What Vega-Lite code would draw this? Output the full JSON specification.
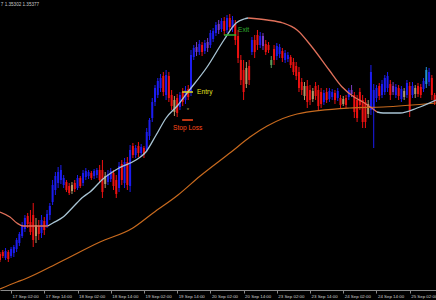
{
"$schema":"https://vega.github.io/schema/vega-lite/v6.json",
"width":436,"height":290,
"autosize":{"type":"none"},
"padding":{"left":0,"right":0,"top":0,"bottom":10},
"background":"#000000",
"config":{"view":{"stroke":null},"font":"Liberation Sans",
 "axisX":{"labelOverlap":false,"labelFlush":false,"labelBound":false,"labelAlign":"left","labelBaseline":"top","labelPadding":1,"labelOffset":1,
   "labelFontSize":4.4,"labelColor":"#d0d0d0","labelFont":"Liberation Sans","tickCount":30,
   "domainColor":"#8a8a8a","domainWidth":1,"tickColor":"#8a8a8a","tickSize":3,"tickWidth":1,"grid":false}},
"datasets":{
"bars":[
{"i":0,"h":1.3348,"l":1.3338,"o":1.3346,"c":1.3340,"k":"d"},
{"i":1,"h":1.3350,"l":1.3342,"o":1.3348,"c":1.3344,"k":"d"},
{"i":2,"h":1.3352,"l":1.3340,"o":1.3342,"c":1.3349,"k":"u"},
{"i":3,"h":1.3350,"l":1.3338,"o":1.3348,"c":1.3341,"k":"d"},
{"i":4,"h":1.3353,"l":1.3342,"o":1.3344,"c":1.3351,"k":"u"},
{"i":5,"h":1.3355,"l":1.3343,"o":1.3347,"c":1.3353,"k":"u"},
{"i":6,"h":1.3362,"l":1.3348,"o":1.3351,"c":1.3360,"k":"u"},
{"i":7,"h":1.3368,"l":1.3354,"o":1.3357,"c":1.3366,"k":"u"},
{"i":8,"h":1.3378,"l":1.3362,"o":1.3364,"c":1.3375,"k":"u"},
{"i":9,"h":1.3385,"l":1.3368,"o":1.3371,"c":1.3382,"k":"u"},
{"i":10,"h":1.3387,"l":1.3372,"o":1.3384,"c":1.3376,"k":"d"},
{"i":11,"h":1.3390,"l":1.3365,"o":1.3378,"c":1.3368,"k":"d"},
{"i":12,"h":1.3397,"l":1.3353,"o":1.3385,"c":1.3360,"k":"d"},
{"i":13,"h":1.3382,"l":1.3357,"o":1.3375,"c":1.3364,"k":"t"},
{"i":14,"h":1.3380,"l":1.3360,"o":1.3374,"c":1.3366,"k":"d"},
{"i":15,"h":1.3385,"l":1.3362,"o":1.3367,"c":1.3380,"k":"u"},
{"i":16,"h":1.3383,"l":1.3365,"o":1.3379,"c":1.3370,"k":"d"},
{"i":17,"h":1.3390,"l":1.3372,"o":1.3374,"c":1.3386,"k":"u"},
{"i":18,"h":1.3397,"l":1.3380,"o":1.3385,"c":1.3394,"k":"u"},
{"i":19,"h":1.3420,"l":1.3395,"o":1.3398,"c":1.3415,"k":"u"},
{"i":20,"h":1.3428,"l":1.3405,"o":1.3410,"c":1.3424,"k":"u"},
{"i":21,"h":1.3433,"l":1.3412,"o":1.3417,"c":1.3428,"k":"u"},
{"i":22,"h":1.3435,"l":1.3416,"o":1.3420,"c":1.3430,"k":"u"},
{"i":23,"h":1.3425,"l":1.3412,"o":1.3415,"c":1.3422,"k":"u"},
{"i":24,"h":1.3420,"l":1.3408,"o":1.3418,"c":1.3410,"k":"d"},
{"i":25,"h":1.3417,"l":1.3405,"o":1.3414,"c":1.3407,"k":"d"},
{"i":26,"h":1.3418,"l":1.3406,"o":1.3415,"c":1.3409,"k":"t"},
{"i":27,"h":1.3420,"l":1.3408,"o":1.3417,"c":1.3411,"k":"d"},
{"i":28,"h":1.3425,"l":1.3410,"o":1.3412,"c":1.3422,"k":"u"},
{"i":29,"h":1.3424,"l":1.3412,"o":1.3422,"c":1.3414,"k":"d"},
{"i":30,"h":1.3430,"l":1.3414,"o":1.3417,"c":1.3427,"k":"u"},
{"i":31,"h":1.3432,"l":1.3420,"o":1.3423,"c":1.3429,"k":"u"},
{"i":32,"h":1.3430,"l":1.3421,"o":1.3424,"c":1.3428,"k":"u"},
{"i":33,"h":1.3429,"l":1.3420,"o":1.3427,"c":1.3422,"k":"d"},
{"i":34,"h":1.3431,"l":1.3421,"o":1.3424,"c":1.3429,"k":"u"},
{"i":35,"h":1.3432,"l":1.3422,"o":1.3425,"c":1.3430,"k":"u"},
{"i":36,"h":1.3435,"l":1.3418,"o":1.3430,"c":1.3420,"k":"d"},
{"i":37,"h":1.3440,"l":1.3402,"o":1.3430,"c":1.3408,"k":"d"},
{"i":38,"h":1.3428,"l":1.3412,"o":1.3424,"c":1.3416,"k":"t"},
{"i":39,"h":1.3430,"l":1.3415,"o":1.3418,"c":1.3426,"k":"u"},
{"i":40,"h":1.3432,"l":1.3418,"o":1.3421,"c":1.3429,"k":"u"},
{"i":41,"h":1.3430,"l":1.3410,"o":1.3427,"c":1.3414,"k":"d"},
{"i":42,"h":1.3425,"l":1.3402,"o":1.3420,"c":1.3406,"k":"d"},
{"i":43,"h":1.3438,"l":1.3408,"o":1.3412,"c":1.3434,"k":"u"},
{"i":44,"h":1.3440,"l":1.3415,"o":1.3436,"c":1.3420,"k":"d"},
{"i":45,"h":1.3442,"l":1.3412,"o":1.3417,"c":1.3438,"k":"u"},
{"i":46,"h":1.3443,"l":1.3410,"o":1.3438,"c":1.3415,"k":"d"},
{"i":47,"h":1.3455,"l":1.3408,"o":1.3414,"c":1.3450,"k":"u"},
{"i":48,"h":1.3457,"l":1.3442,"o":1.3454,"c":1.3445,"k":"d"},
{"i":49,"h":1.3455,"l":1.3442,"o":1.3445,"c":1.3452,"k":"u"},
{"i":50,"h":1.3458,"l":1.3443,"o":1.3454,"c":1.3447,"k":"d"},
{"i":51,"h":1.3456,"l":1.3444,"o":1.3447,"c":1.3453,"k":"u"},
{"i":52,"h":1.3454,"l":1.3442,"o":1.3452,"c":1.3445,"k":"d"},
{"i":53,"h":1.3472,"l":1.3448,"o":1.3450,"c":1.3468,"k":"u"},
{"i":54,"h":1.3482,"l":1.3460,"o":1.3464,"c":1.3480,"k":"u"},
{"i":55,"h":1.3502,"l":1.3478,"o":1.3482,"c":1.3498,"k":"u"},
{"i":56,"h":1.3515,"l":1.3494,"o":1.3498,"c":1.3512,"k":"u"},
{"i":57,"h":1.3522,"l":1.3502,"o":1.3505,"c":1.3519,"k":"u"},
{"i":58,"h":1.3526,"l":1.3508,"o":1.3512,"c":1.3522,"k":"u"},
{"i":59,"h":1.3528,"l":1.3504,"o":1.3524,"c":1.3508,"k":"d"},
{"i":60,"h":1.3530,"l":1.3500,"o":1.3505,"c":1.3525,"k":"u"},
{"i":61,"h":1.3528,"l":1.3498,"o":1.3524,"c":1.3502,"k":"d"},
{"i":62,"h":1.3510,"l":1.3490,"o":1.3505,"c":1.3494,"k":"d"},
{"i":63,"h":1.3504,"l":1.3484,"o":1.3500,"c":1.3488,"k":"t"},
{"i":64,"h":1.3506,"l":1.3483,"o":1.3502,"c":1.3487,"k":"d"},
{"i":65,"h":1.3508,"l":1.3490,"o":1.3493,"c":1.3505,"k":"u"},
{"i":66,"h":1.3512,"l":1.3494,"o":1.3508,"c":1.3498,"k":"d"},
{"i":67,"h":1.3514,"l":1.3496,"o":1.3500,"c":1.3510,"k":"u"},
{"i":68,"h":1.3515,"l":1.3500,"o":1.3511,"c":1.3503,"k":"d"},
{"i":69,"h":1.3550,"l":1.3504,"o":1.3508,"c":1.3545,"k":"u"},
{"i":70,"h":1.3555,"l":1.3540,"o":1.3543,"c":1.3552,"k":"u"},
{"i":71,"h":1.3558,"l":1.3544,"o":1.3553,"c":1.3548,"k":"p"},
{"i":72,"h":1.3560,"l":1.3545,"o":1.3548,"c":1.3556,"k":"u"},
{"i":73,"h":1.3558,"l":1.3544,"o":1.3555,"c":1.3548,"k":"d"},
{"i":74,"h":1.3560,"l":1.3546,"o":1.3549,"c":1.3557,"k":"u"},
{"i":75,"h":1.3562,"l":1.3548,"o":1.3558,"c":1.3552,"k":"p"},
{"i":76,"h":1.3570,"l":1.3552,"o":1.3555,"c":1.3567,"k":"u"},
{"i":77,"h":1.3572,"l":1.3558,"o":1.3561,"c":1.3569,"k":"u"},
{"i":78,"h":1.3578,"l":1.3564,"o":1.3567,"c":1.3575,"k":"u"},
{"i":79,"h":1.3580,"l":1.3566,"o":1.3576,"c":1.3570,"k":"p"},
{"i":80,"h":1.3582,"l":1.3568,"o":1.3571,"c":1.3579,"k":"u"},
{"i":81,"h":1.3583,"l":1.3565,"o":1.3579,"c":1.3569,"k":"d"},
{"i":82,"h":1.3585,"l":1.3567,"o":1.3570,"c":1.3582,"k":"u"},
{"i":83,"h":1.3586,"l":1.3570,"o":1.3582,"c":1.3573,"k":"d"},
{"i":84,"h":1.3584,"l":1.3568,"o":1.3572,"c":1.3580,"k":"u"},
{"i":85,"h":1.3580,"l":1.3555,"o":1.3576,"c":1.3560,"k":"d"},
{"i":86,"h":1.3570,"l":1.3537,"o":1.3564,"c":1.3542,"k":"d"},
{"i":87,"h":1.3545,"l":1.3515,"o":1.3540,"c":1.3520,"k":"d"},
{"i":88,"h":1.3540,"l":1.3500,"o":1.3530,"c":1.3508,"k":"d"},
{"i":89,"h":1.3538,"l":1.3512,"o":1.3516,"c":1.3532,"k":"t"},
{"i":90,"h":1.3540,"l":1.3515,"o":1.3534,"c":1.3520,"k":"d"},
{"i":91,"h":1.3563,"l":1.3545,"o":1.3548,"c":1.3560,"k":"u"},
{"i":92,"h":1.3565,"l":1.3542,"o":1.3560,"c":1.3548,"k":"d"},
{"i":93,"h":1.3570,"l":1.3550,"o":1.3565,"c":1.3555,"k":"d"},
{"i":94,"h":1.3568,"l":1.3552,"o":1.3555,"c":1.3564,"k":"u"},
{"i":95,"h":1.3567,"l":1.3550,"o":1.3564,"c":1.3554,"k":"p"},
{"i":96,"h":1.3560,"l":1.3545,"o":1.3556,"c":1.3548,"k":"d"},
{"i":97,"h":1.3558,"l":1.3547,"o":1.3555,"c":1.3550,"k":"d"},
{"i":98,"h":1.3544,"l":1.3532,"o":1.3540,"c":1.3535,"k":"g"},
{"i":99,"h":1.3555,"l":1.3535,"o":1.3551,"c":1.3540,"k":"d"},
{"i":100,"h":1.3557,"l":1.3540,"o":1.3544,"c":1.3554,"k":"u"},
{"i":101,"h":1.3556,"l":1.3542,"o":1.3546,"c":1.3553,"k":"u"},
{"i":102,"h":1.3552,"l":1.3538,"o":1.3549,"c":1.3542,"k":"d"},
{"i":103,"h":1.3550,"l":1.3537,"o":1.3540,"c":1.3547,"k":"u"},
{"i":104,"h":1.3548,"l":1.3538,"o":1.3541,"c":1.3545,"k":"u"},
{"i":105,"h":1.3545,"l":1.3532,"o":1.3543,"c":1.3535,"k":"d"},
{"i":106,"h":1.3542,"l":1.3525,"o":1.3538,"c":1.3528,"k":"d"},
{"i":107,"h":1.3538,"l":1.3520,"o":1.3534,"c":1.3524,"k":"d"},
{"i":108,"h":1.3533,"l":1.3508,"o":1.3528,"c":1.3512,"k":"d"},
{"i":109,"h":1.3522,"l":1.3505,"o":1.3518,"c":1.3510,"k":"d"},
{"i":110,"h":1.3518,"l":1.3500,"o":1.3504,"c":1.3514,"k":"t"},
{"i":111,"h":1.3520,"l":1.3492,"o":1.3514,"c":1.3498,"k":"d"},
{"i":112,"h":1.3515,"l":1.3495,"o":1.3510,"c":1.3500,"k":"d"},
{"i":113,"h":1.3512,"l":1.3498,"o":1.3501,"c":1.3509,"k":"t"},
{"i":114,"h":1.3518,"l":1.3500,"o":1.3514,"c":1.3504,"k":"d"},
{"i":115,"h":1.3515,"l":1.3490,"o":1.3510,"c":1.3494,"k":"d"},
{"i":116,"h":1.3512,"l":1.3492,"o":1.3508,"c":1.3496,"k":"d"},
{"i":117,"h":1.3510,"l":1.3495,"o":1.3498,"c":1.3507,"k":"u"},
{"i":118,"h":1.3512,"l":1.3497,"o":1.3508,"c":1.3500,"k":"d"},
{"i":119,"h":1.3512,"l":1.3498,"o":1.3501,"c":1.3509,"k":"u"},
{"i":120,"h":1.3511,"l":1.3500,"o":1.3503,"c":1.3508,"k":"u"},
{"i":121,"h":1.3510,"l":1.3496,"o":1.3507,"c":1.3500,"k":"d"},
{"i":122,"h":1.3512,"l":1.3499,"o":1.3502,"c":1.3509,"k":"u"},
{"i":123,"h":1.3505,"l":1.3492,"o":1.3502,"c":1.3495,"k":"d"},
{"i":124,"h":1.3504,"l":1.3494,"o":1.3496,"c":1.3501,"k":"t"},
{"i":125,"h":1.3505,"l":1.3492,"o":1.3502,"c":1.3495,"k":"d"},
{"i":126,"h":1.3512,"l":1.3500,"o":1.3503,"c":1.3510,"k":"u"},
{"i":127,"h":1.3515,"l":1.3503,"o":1.3510,"c":1.3506,"k":"p"},
{"i":128,"h":1.3508,"l":1.3482,"o":1.3505,"c":1.3488,"k":"d"},
{"i":129,"h":1.3505,"l":1.3478,"o":1.3500,"c":1.3482,"k":"d"},
{"i":130,"h":1.3512,"l":1.3490,"o":1.3508,"c":1.3495,"k":"d"},
{"i":131,"h":1.3505,"l":1.3472,"o":1.3500,"c":1.3478,"k":"d"},
{"i":132,"h":1.3502,"l":1.3472,"o":1.3498,"c":1.3478,"k":"d"},
{"i":133,"h":1.3500,"l":1.3482,"o":1.3486,"c":1.3496,"k":"t"},
{"i":134,"h":1.3535,"l":1.3485,"o":1.3490,"c":1.3528,"k":"u"},
{"i":135,"h":1.3516,"l":1.3452,"o":1.3490,"c":1.3510,"k":"u"},
{"i":136,"h":1.3515,"l":1.3498,"o":1.3502,"c":1.3512,"k":"u"},
{"i":137,"h":1.3517,"l":1.3500,"o":1.3514,"c":1.3504,"k":"d"},
{"i":138,"h":1.3520,"l":1.3502,"o":1.3505,"c":1.3516,"k":"u"},
{"i":139,"h":1.3525,"l":1.3505,"o":1.3508,"c":1.3522,"k":"u"},
{"i":140,"h":1.3528,"l":1.3508,"o":1.3512,"c":1.3524,"k":"u"},
{"i":141,"h":1.3520,"l":1.3500,"o":1.3516,"c":1.3505,"k":"d"},
{"i":142,"h":1.3518,"l":1.3505,"o":1.3514,"c":1.3508,"k":"p"},
{"i":143,"h":1.3516,"l":1.3502,"o":1.3505,"c":1.3513,"k":"u"},
{"i":144,"h":1.3515,"l":1.3500,"o":1.3512,"c":1.3504,"k":"d"},
{"i":145,"h":1.3514,"l":1.3498,"o":1.3501,"c":1.3511,"k":"u"},
{"i":146,"h":1.3512,"l":1.3500,"o":1.3503,"c":1.3509,"k":"t"},
{"i":147,"h":1.3520,"l":1.3502,"o":1.3505,"c":1.3517,"k":"u"},
{"i":148,"h":1.3518,"l":1.3483,"o":1.3514,"c":1.3490,"k":"d"},
{"i":149,"h":1.3518,"l":1.3502,"o":1.3505,"c":1.3514,"k":"u"},
{"i":150,"h":1.3515,"l":1.3502,"o":1.3506,"c":1.3512,"k":"t"},
{"i":151,"h":1.3517,"l":1.3503,"o":1.3514,"c":1.3506,"k":"d"},
{"i":152,"h":1.3516,"l":1.3502,"o":1.3513,"c":1.3505,"k":"d"},
{"i":153,"h":1.3522,"l":1.3508,"o":1.3511,"c":1.3519,"k":"u"},
{"i":154,"h":1.3533,"l":1.3512,"o":1.3516,"c":1.3530,"k":"c"},
{"i":155,"h":1.3532,"l":1.3514,"o":1.3518,"c":1.3528,"k":"u"},
{"i":156,"h":1.3525,"l":1.3500,"o":1.3522,"c":1.3505,"k":"d"},
{"i":157,"h":1.3507,"l":1.3495,"o":1.3505,"c":1.3498,"k":"d"}
],
"ma":[
{"i":0,"p":1.3388,"s":"A","k":"maD"},
{"i":3.6,"p":1.3383,"s":"A","k":"maD"},
{"i":6.1,"p":1.3377,"s":"A","k":"maD"},
{"i":8.3,"p":1.3374,"s":"A","k":"maD"},
{"i":12.6,"p":1.3374,"s":"A","k":"maD"},
{"i":17.3,"p":1.3374,"s":"A","k":"maD"},
{"i":17.3,"p":1.3374,"s":"B","k":"maU"},
{"i":19.1,"p":1.3377,"s":"B","k":"maU"},
{"i":22.8,"p":1.3383,"s":"B","k":"maU"},
{"i":26.4,"p":1.3393,"s":"B","k":"maU"},
{"i":30.0,"p":1.3403,"s":"B","k":"maU"},
{"i":32.5,"p":1.3408,"s":"B","k":"maU"},
{"i":37.2,"p":1.3421,"s":"B","k":"maU"},
{"i":43.0,"p":1.3432,"s":"B","k":"maU"},
{"i":49.1,"p":1.3440,"s":"B","k":"maU"},
{"i":52.7,"p":1.3448,"s":"B","k":"maU"},
{"i":56.4,"p":1.3465,"s":"B","k":"maU"},
{"i":60.0,"p":1.3482,"s":"B","k":"maU"},
{"i":64.3,"p":1.3495,"s":"B","k":"maU"},
{"i":67.6,"p":1.3507,"s":"B","k":"maU"},
{"i":74.8,"p":1.3533,"s":"B","k":"maU"},
{"i":80.9,"p":1.3560,"s":"B","k":"maU"},
{"i":85.3,"p":1.3577,"s":"B","k":"maU"},
{"i":88.2,"p":1.3581,"s":"B","k":"maU"},
{"i":89.6,"p":1.3582,"s":"B","k":"maU"},
{"i":89.6,"p":1.3582,"s":"C","k":"maD"},
{"i":96.5,"p":1.3580,"s":"C","k":"maD"},
{"i":102.2,"p":1.3577,"s":"C","k":"maD"},
{"i":107.3,"p":1.3570,"s":"C","k":"maD"},
{"i":112.7,"p":1.3553,"s":"C","k":"maD"},
{"i":118.9,"p":1.3530,"s":"C","k":"maD"},
{"i":123.6,"p":1.3513,"s":"C","k":"maD"},
{"i":127.9,"p":1.3503,"s":"C","k":"maD"},
{"i":131.1,"p":1.3498,"s":"C","k":"maD"},
{"i":136.2,"p":1.3488,"s":"C","k":"maD"},
{"i":136.2,"p":1.3488,"s":"D","k":"maU"},
{"i":138.4,"p":1.3487,"s":"D","k":"maU"},
{"i":144.5,"p":1.3487,"s":"D","k":"maU"},
{"i":150.7,"p":1.3492,"s":"D","k":"maU"},
{"i":157.5,"p":1.3500,"s":"D","k":"maU"}
],
"slow":[
{"i":0,"p":1.3311},{"i":6.1,"p":1.3318},{"i":9.0,"p":1.3321},{"i":21.7,"p":1.3338},
{"i":36.1,"p":1.3358},{"i":48.0,"p":1.3372},{"i":55.3,"p":1.3387},{"i":64.3,"p":1.3405},
{"i":72.3,"p":1.3424},{"i":83.5,"p":1.3448},{"i":90.3,"p":1.3463},{"i":96.5,"p":1.3474},
{"i":107.3,"p":1.3486},{"i":126.4,"p":1.3492},{"i":138.4,"p":1.3493},{"i":157.5,"p":1.3497}
],
"ann":[
{"i":65.8,"i2":69.7,"p":1.3508,"k":"entry"},
{"i":80.9,"i2":85.3,"p":1.3565,"k":"exit"},
{"i":65.8,"i2":69.7,"p":1.3480,"k":"stop"}
],
"lab":[
{"i":71.2,"p":1.3508,"t":"Entry","k":"entry"},
{"i":86.0,"p":1.3570,"t":"Exit","k":"exit"},
{"i":62.5,"p":1.3472,"t":"Stop Loss","k":"stop"}
],
"star":[{"i":67.9,"p":1.3492,"t":"*","k":"star"}],
"head":[{"i":0.3,"p":1.35955,"t":"7  1.35302 1.35377","k":"head"}]
},
"layer":[
{"data":{"name":"bars"},"mark":{"type":"rule","strokeWidth":1},
 "encoding":{
  "x":{"field":"i","type":"quantitative","title":null,
   "scale":{"domain":[0,157.5],"nice":false,"zero":false},
   "axis":{"values":[4,16,28,40,52,64,76,88,100,112,124,136,148],"tickCount":30,
     "labelExpr":"['17 Sep 02:00','17 Sep 14:00','18 Sep 02:00','18 Sep 14:00','19 Sep 02:00','19 Sep 14:00','20 Sep 02:00','20 Sep 14:00','23 Sep 02:00','23 Sep 14:00','24 Sep 02:00','24 Sep 14:00','25 Sep 02:00'][(datum.value-4)/12]",
     "labelOverlap":false}},
  "y":{"field":"l","type":"quantitative","scale":{"domain":[1.3310,1.3600],"nice":false,"zero":false},"axis":null},
  "y2":{"field":"h"},
  "color":{"field":"k","type":"nominal","legend":null,
   "scale":{"domain":["d","u","t","p","g","c","maU","maD","slow","entry","exit","stop","star","head"],
            "range":["#ee1111","#1c1cf0","#b09a6a","#7a3cc0","#5a9a5a","#2090d0","#a8c4d4","#e0705a","#c86a1e","#e0e020","#30b030","#ff4a1a","#b0a040","#c8c8c8"]}}}},
{"data":{"name":"bars"},"mark":{"type":"rule","strokeWidth":2},
 "encoding":{
  "x":{"field":"i","type":"quantitative","title":null},
  "y":{"field":"o","type":"quantitative","axis":null},
  "y2":{"field":"c"},
  "color":{"field":"k","type":"nominal","legend":null}}},
{"data":{"name":"slow"},"mark":{"type":"line","strokeWidth":1.2,"interpolate":"monotone","color":"#c86a1e","clip":true},
 "encoding":{
  "x":{"field":"i","type":"quantitative","title":null},
  "y":{"field":"p","type":"quantitative","axis":null}}},
{"data":{"name":"ma"},"mark":{"type":"line","strokeWidth":1.3,"interpolate":"monotone"},
 "encoding":{
  "x":{"field":"i","type":"quantitative","title":null},
  "y":{"field":"p","type":"quantitative","axis":null},
  "detail":{"field":"s"},
  "color":{"field":"k","type":"nominal","legend":null}}},
{"data":{"name":"ann"},"mark":{"type":"rule","strokeWidth":1.5},
 "encoding":{
  "x":{"field":"i","type":"quantitative","title":null},
  "x2":{"field":"i2"},
  "y":{"field":"p","type":"quantitative","axis":null},
  "color":{"field":"k","type":"nominal","legend":null}}},
{"data":{"name":"lab"},"mark":{"type":"text","align":"left","baseline":"middle","fontSize":6.6,"font":"Liberation Sans"},
 "encoding":{
  "x":{"field":"i","type":"quantitative","title":null},
  "y":{"field":"p","type":"quantitative","axis":null},
  "text":{"field":"t"},
  "color":{"field":"k","type":"nominal","legend":null}}},
{"data":{"name":"star"},"mark":{"type":"text","align":"center","baseline":"middle","fontSize":6,"dy":1.5,"font":"Liberation Sans"},
 "encoding":{
  "x":{"field":"i","type":"quantitative","title":null},
  "y":{"field":"p","type":"quantitative","axis":null},
  "text":{"field":"t"},
  "color":{"field":"k","type":"nominal","legend":null}}},
{"data":{"name":"head"},"mark":{"type":"text","align":"left","baseline":"middle","fontSize":4.6,"font":"Liberation Sans"},
 "encoding":{
  "x":{"field":"i","type":"quantitative","title":null},
  "y":{"field":"p","type":"quantitative","axis":null},
  "text":{"field":"t"},
  "color":{"field":"k","type":"nominal","legend":null}}},
{"mark":{"type":"rule","color":"#8a8a8a","strokeWidth":1},
 "encoding":{"y":{"datum":1.3599,"type":"quantitative","axis":null}}}
]
}
